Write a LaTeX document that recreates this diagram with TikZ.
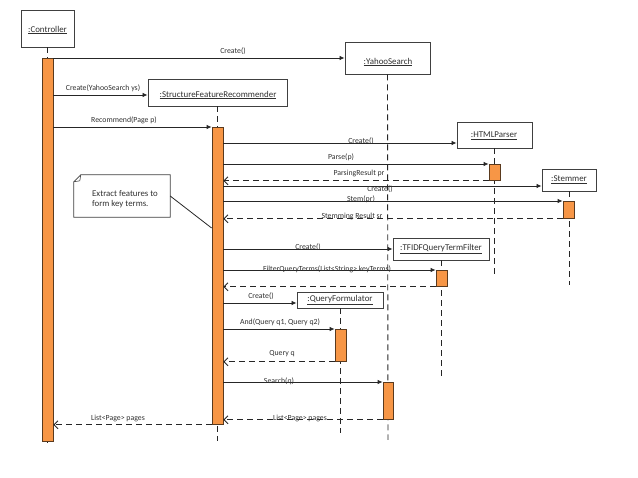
\documentclass[tikz,border=0pt]{standalone}
\usepackage{fontspec}
\setmainfont{Carlito}
\usetikzlibrary{arrows.meta}
\definecolor{barorange}{HTML}{F79646}
\definecolor{bardraw}{HTML}{5A3A1E}
\definecolor{linegray}{HTML}{262626}
\definecolor{boxgray}{HTML}{404040}
\definecolor{txtgray}{HTML}{303030}
\tikzset{
  objbox/.style={draw=boxgray, fill=white, line width=0.9pt, inner sep=0pt},
  objlbl/.style={inner sep=0pt, text=txtgray, font=\fontsize{8.9}{10}\selectfont},
  actbar/.style={draw=bardraw, fill=barorange, line width=0.8pt, inner sep=0pt, anchor=north, minimum width=11pt},
  lifeline/.style={draw=linegray, line width=0.9pt, dash pattern=on 6pt off 4pt},
  msg/.style={draw=linegray, line width=0.8pt, -{Latex[length=5pt,width=4.5pt]}},
  ret/.style={draw=linegray, line width=0.9pt, dash pattern=on 6pt off 4pt, -{Straight Barb[length=4pt,width=8pt,line width=0.9pt]}},
  mlbl/.style={inner sep=0pt, text=txtgray, font=\fontsize{7.8}{9}\selectfont},
}
\begin{document}
\begin{tikzpicture}[x=1pt,y=-1pt]
\useasboundingbox (0,0) rectangle (638,478);

% object boxes
\node[objbox, minimum width=53pt, minimum height=37pt] (ctrl) at (47.5,28.5) {};
\node[objlbl] (ctrllbl) at (47.5,30) {\underline{:Controller}};
\node[objbox, minimum width=85pt, minimum height=32pt] (ys) at (387.5,58) {};
\node[objlbl] (yslbl) at (388,62) {\underline{:YahooSearch}};
\node[objbox, minimum width=139pt, minimum height=27pt] (sfr) at (217.5,92.5) {};
\node[objlbl] (sfrlbl) at (218,95) {\underline{:StructureFeatureRecommender}};
\node[objbox, minimum width=75pt, minimum height=26pt] (html) at (494.5,135) {};
\node[objlbl] (htmllbl) at (494,136) {\underline{:HTMLParser}};
\node[objbox, minimum width=54pt, minimum height=22pt] (stem) at (569,180) {};
\node[objlbl] (stemlbl) at (569,180) {\underline{:Stemmer}};
\node[objbox, minimum width=96pt, minimum height=22pt] (tfidf) at (441,249) {};
\node[objlbl] (tfidflbl) at (441,249) {\underline{:TFIDFQueryTermFilter}};
\node[objbox, minimum width=86pt, minimum height=16pt] (qf) at (340,300) {};
\node[objlbl] (qflbl) at (340,300) {\underline{:QueryFormulator}};

% lifeline ends
\coordinate (ctrlend) at (47.5,446);
\coordinate (ysend) at (388,440);
\coordinate (sfrend) at (217.5,441);
\coordinate (htmlend) at (494.5,275);
\coordinate (stemend) at (569,285);
\coordinate (tfidfend) at (441,377);
\coordinate (qfend) at (340,433);

\draw[lifeline] (ctrl.south) -- (ctrlend);
\draw[lifeline] (ys.south) -- (ysend);
\draw[lifeline] (sfr.south) -- (sfrend);
\draw[lifeline] (html.south) -- (htmlend);
\draw[lifeline] (stem.south) -- (stemend);
\draw[lifeline] (tfidf.south) -- (tfidfend);
\draw[lifeline] (qf.south) -- (qfend);

% activation bars
\node[actbar, minimum height=383pt] (cbar) at (47.5,58) {};
\node[actbar, minimum height=297pt] (sbar) at (217.5,127) {};
\node[actbar, minimum height=16pt] (hbar) at (494.5,164) {};
\node[actbar, minimum height=17pt] (stbar) at (568.5,201) {};
\node[actbar, minimum height=16pt] (tbar) at (441.5,270) {};
\node[actbar, minimum height=32pt] (qbar) at (340.5,329) {};
\node[actbar, minimum height=37pt, minimum width=10pt] (ybar) at (388,382) {};

% messages
\draw[msg] (cbar.east |- ys.west) -- (ys.west);
\node[mlbl] (l1) at (233,51) {Create()};
\draw[msg] (cbar.east |- 0,95) -- (sfr.west |- 0,95);
\node[mlbl] (l2) at (103,88) {Create(YahooSearch ys)};
\draw[msg] (cbar.east |- sbar.north) -- (sbar.north west);
\node[mlbl] (l3) at (124,120) {Recommend(Page p)};

\draw[msg] (sbar.east |- 0,143) -- (html.west |- 0,143);
\node[mlbl] (l4) at (361,141) {Create()};
\draw[msg] (sbar.east |- hbar.north) -- (hbar.north west);
\node[mlbl] (l5) at (341,157) {Parse(p)};
\draw[ret] (hbar.south west) -- (sbar.east |- hbar.south);
\node[mlbl] (l6) at (359,173) {ParsingResult pr};

\draw[msg] (sbar.east |- 0,186) -- (stem.west |- 0,186);
\node[mlbl] (l7) at (380,189) {Create()};
\draw[msg] (sbar.east |- stbar.north) -- (stbar.north west);
\node[mlbl] (l8) at (361,199) {Stem(pr)};
\draw[ret] (stbar.south west) -- (sbar.east |- stbar.south);
\node[mlbl] (l9) at (352,216) {Stemming Result sr};

\draw[msg] (sbar.east |- tfidf.west) -- (tfidf.west);
\node[mlbl] (l10) at (308,247) {Create()};
\draw[msg] (sbar.east |- tbar.north) -- (tbar.north west);
\node[mlbl] (l11) at (327,269) {FilterQueryTerms(List<String> keyTerms)};
\draw[ret] (tbar.south west) -- (sbar.east |- tbar.south);

\draw[msg] (sbar.east |- 0,303) -- (qf.west |- 0,303);
\node[mlbl] (l12) at (261,296) {Create()};
\draw[msg] (sbar.east |- qbar.north) -- (qbar.north west);
\node[mlbl] (l13) at (280,322) {And(Query q1, Query q2)};
\draw[ret] (qbar.south west) -- (sbar.east |- qbar.south);
\node[mlbl] (l14) at (282,354) {Query q};

\draw[msg] (sbar.east |- ybar.north) -- (ybar.north west);
\node[mlbl] (l15) at (279,381) {Search(q)};
\draw[ret] (ybar.south west) -- (sbar.east |- ybar.south);
\node[mlbl] (l16) at (300,418) {List<Page> pages};
\draw[ret] (sbar.south west) -- (cbar.east |- sbar.south);
\node[mlbl] (l17) at (118,418) {List<Page> pages};

% note
\node[inner sep=0pt, minimum width=96pt, minimum height=42pt] (note) at (122,196) {};
\draw[draw=boxgray, line width=0.8pt, fill=white]
  ([xshift=7pt]note.north west) -- (note.north east) -- (note.south east)
  -- (note.south west) -- ([yshift=-7pt]note.north west) -- cycle;
\draw[draw=boxgray, line width=0.6pt]
  ([yshift=-7pt]note.north west) -- ([xshift=6pt,yshift=-6pt]note.north west) -- ([xshift=7pt]note.north west);
\node[inner sep=0pt, anchor=west, align=left, text=txtgray, font=\fontsize{8.8}{10.5}\selectfont] (notetxt) at (92,199) {Extract features to\\form key terms.};
\draw[draw=linegray, line width=0.8pt] (note.east) -- (sbar.west |- 0,228);
\end{tikzpicture}
\end{document}
